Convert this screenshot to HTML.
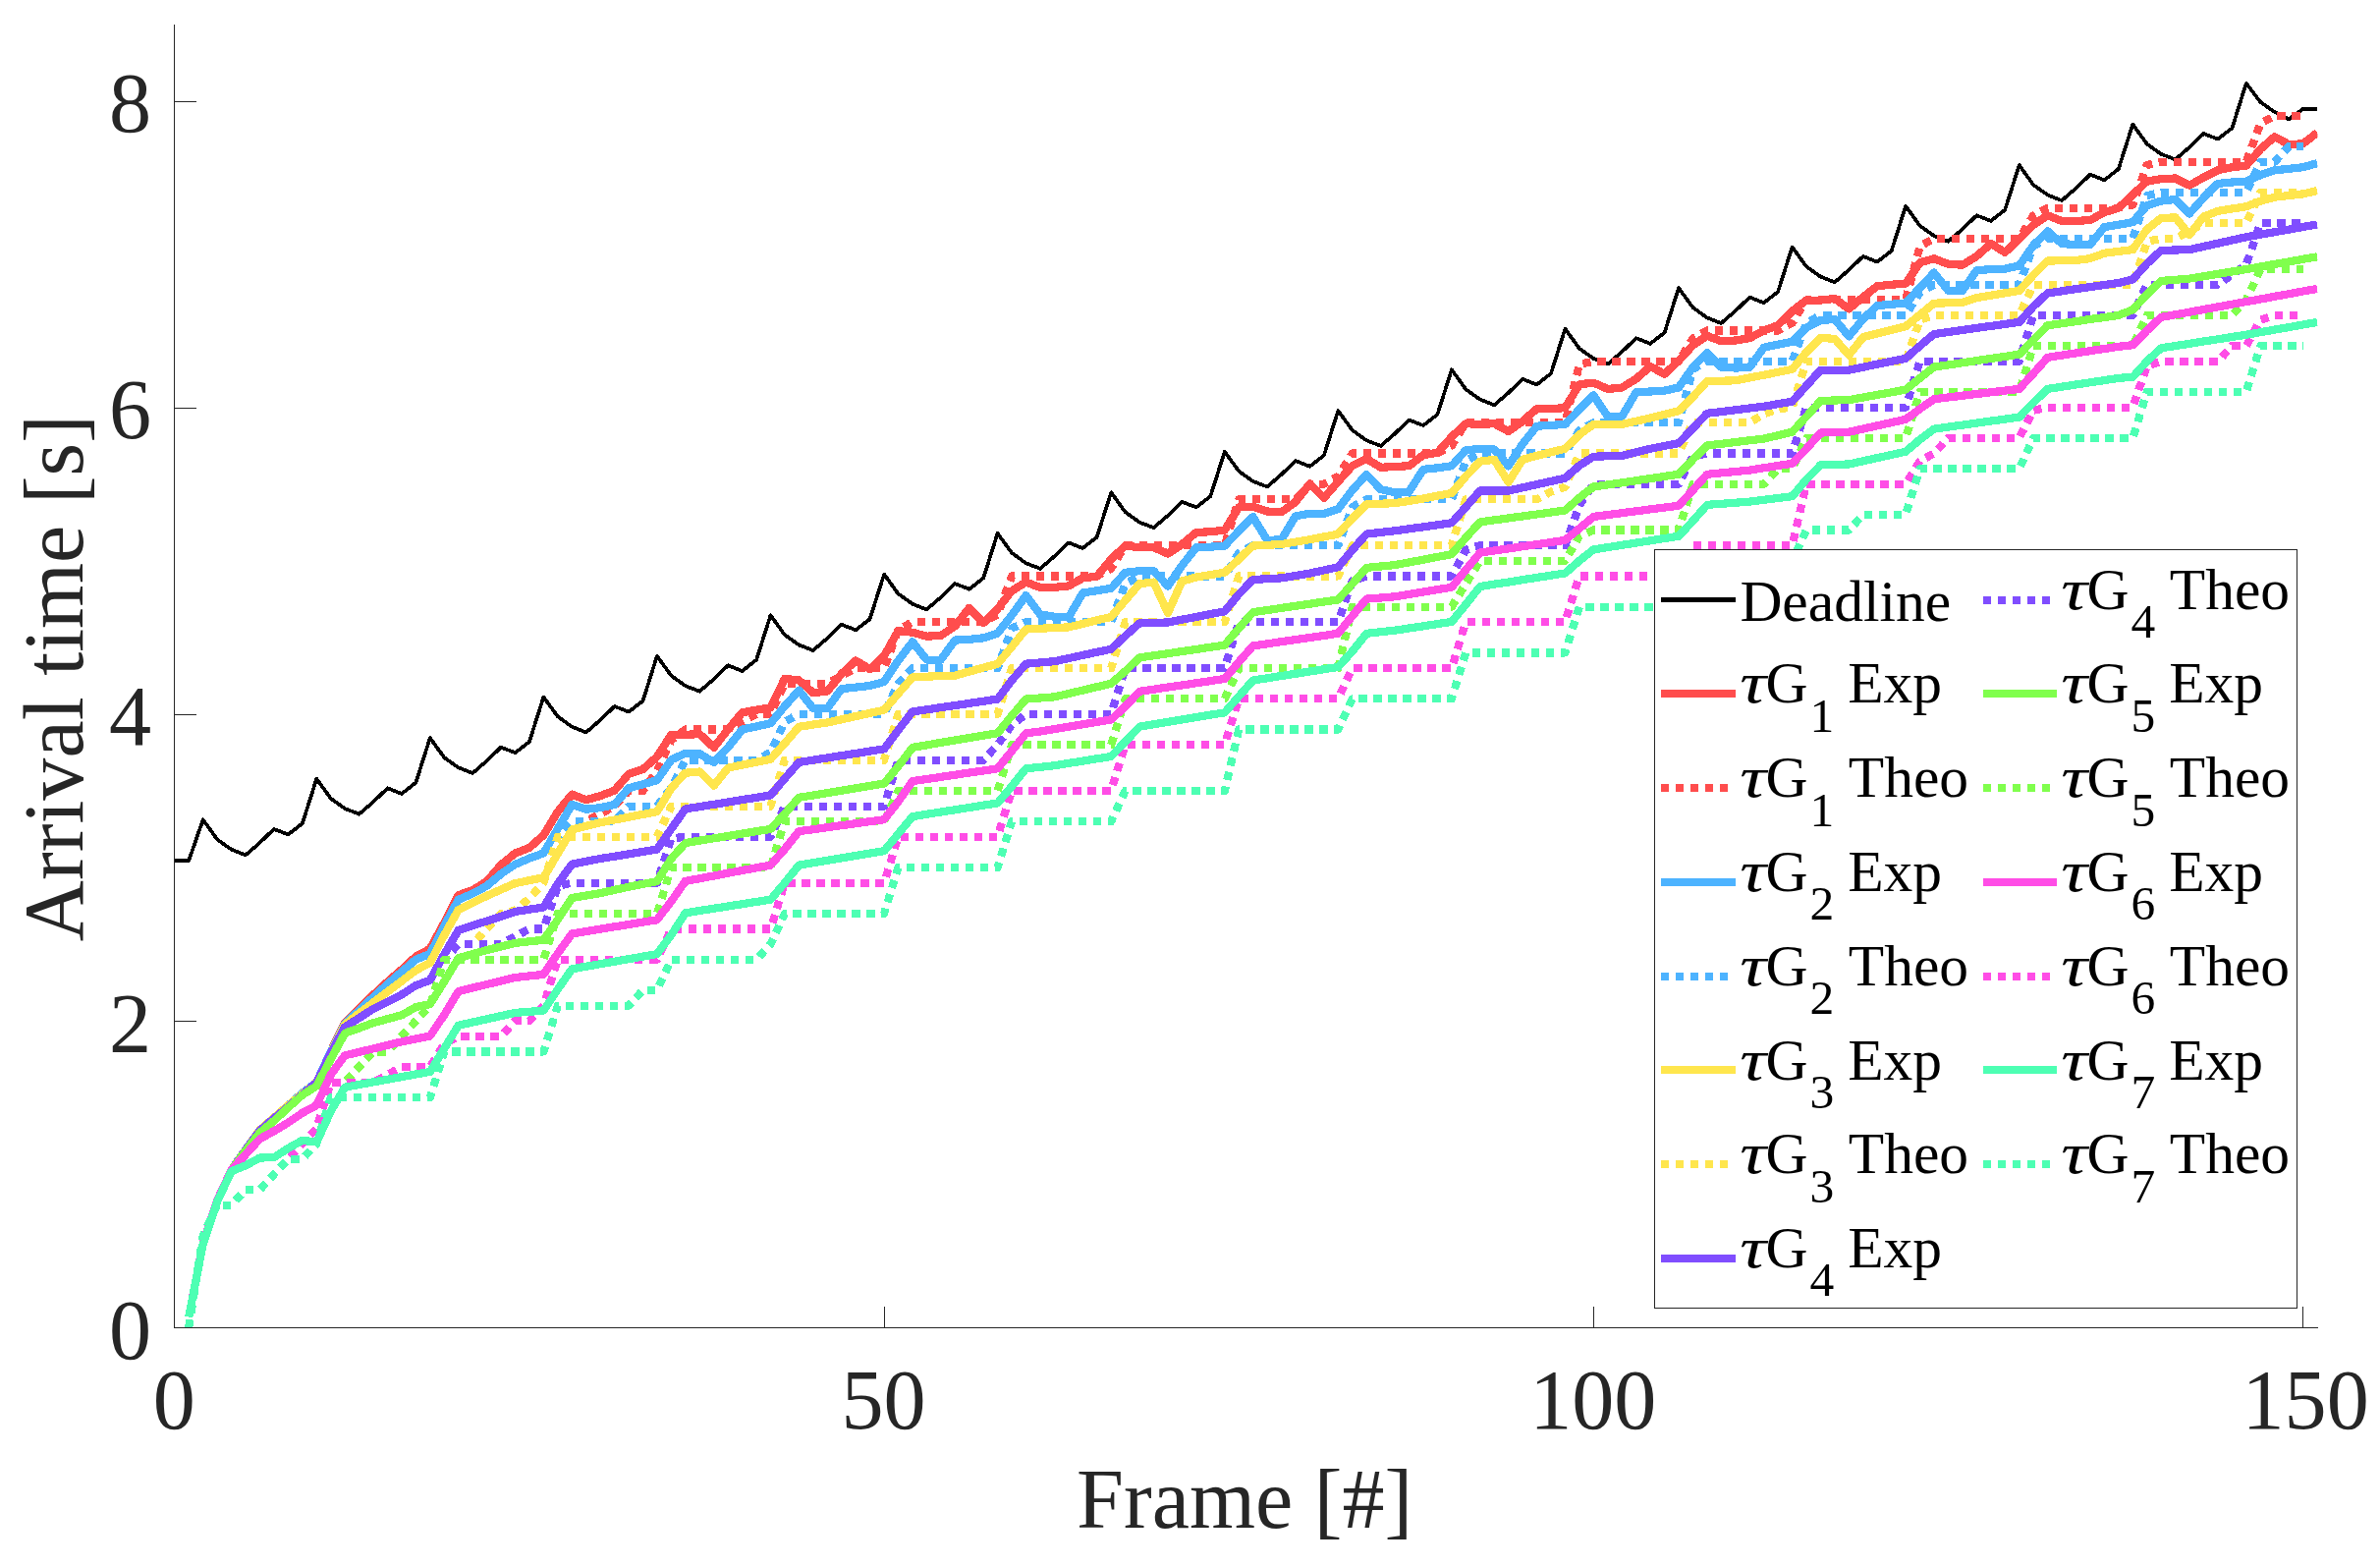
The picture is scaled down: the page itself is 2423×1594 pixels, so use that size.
<!DOCTYPE html>
<html><head><meta charset="utf-8"><title>Arrival time</title>
<style>html,body{margin:0;padding:0;background:#fff}svg{display:block}text{font-family:"Liberation Serif","DejaVu Serif",serif}.tk{font-size:86.2px;fill:#262626}.lg{font-size:59.5px;fill:#000}.sb{font-size:49.5px;fill:#000}.it{font-style:italic}</style></head><body>
<svg width="2423" height="1594" viewBox="0 0 2423 1594">
<rect width="2423" height="1594" fill="#fff"/>
<defs><clipPath id="cp"><rect x="177.5" y="24.7" width="2181.9" height="1330.8"/></clipPath></defs>
<g clip-path="url(#cp)" fill="none" stroke-linejoin="round" shape-rendering="crispEdges">
<polyline points="177.8,875.9 192.2,875.9 206.7,834.4 221.1,854.4 235.6,864.7 250.0,870.3 264.5,857.8 278.9,843.9 293.4,849.5 307.8,838.3 322.3,792.7 336.7,812.7 351.1,823.0 365.6,828.7 380.0,816.2 394.5,802.3 408.9,807.9 423.4,796.6 437.8,751.1 452.3,771.1 466.7,781.4 481.2,787.0 495.6,774.5 510.0,760.6 524.5,766.2 538.9,755.0 553.4,709.5 567.8,729.4 582.3,739.8 596.7,745.4 611.2,732.9 625.6,719.0 640.1,724.6 654.5,713.4 668.9,667.8 683.4,687.8 697.8,698.1 712.3,703.7 726.7,691.2 741.2,677.3 755.6,683.0 770.1,671.7 784.5,626.2 798.9,646.2 813.4,656.5 827.8,662.1 842.3,649.6 856.7,635.7 871.2,641.3 885.6,630.1 900.1,584.5 914.5,604.5 929.0,614.8 943.4,620.5 957.8,608.0 972.3,594.1 986.7,599.7 1001.2,588.4 1015.6,542.9 1030.1,562.9 1044.5,573.2 1059.0,578.8 1073.4,566.3 1087.9,552.4 1102.3,558.0 1116.7,546.8 1131.2,501.3 1145.6,521.2 1160.1,531.6 1174.5,537.2 1189.0,524.7 1203.4,510.8 1217.9,516.4 1232.3,505.2 1246.8,459.6 1261.2,479.6 1275.6,489.9 1290.1,495.5 1304.5,483.0 1319.0,469.1 1333.4,474.8 1347.9,463.5 1362.3,418.0 1376.8,438.0 1391.2,448.3 1405.7,453.9 1420.1,441.4 1434.5,427.5 1449.0,433.1 1463.4,421.9 1477.9,376.3 1492.3,396.3 1506.8,406.6 1521.2,412.3 1535.7,399.8 1550.1,385.9 1564.6,391.5 1579.0,380.2 1593.4,334.7 1607.9,354.7 1622.3,365.0 1636.8,370.6 1651.2,358.1 1665.7,344.2 1680.1,349.8 1694.6,338.6 1709.0,293.1 1723.5,313.0 1737.9,323.4 1752.3,329.0 1766.8,316.5 1781.2,302.6 1795.7,308.2 1810.1,297.0 1824.6,251.4 1839.0,271.4 1853.5,281.7 1867.9,287.3 1882.3,274.8 1896.8,260.9 1911.2,266.6 1925.7,255.3 1940.1,209.8 1954.6,229.8 1969.0,240.1 1983.5,245.7 1997.9,233.2 2012.4,219.3 2026.8,224.9 2041.2,213.7 2055.7,168.1 2070.1,188.1 2084.6,198.4 2099.0,204.1 2113.5,191.6 2127.9,177.7 2142.4,183.3 2156.8,172.0 2171.3,126.5 2185.7,146.5 2200.1,156.8 2214.6,162.4 2229.0,149.9 2243.5,136.0 2257.9,141.6 2272.4,130.4 2286.8,84.9 2301.3,103.9 2315.7,114.0 2330.2,121.4 2344.6,110.9 2359.0,110.9" stroke="#000" stroke-width="3.70"/>
<polyline points="192.2,1340.6 206.7,1265.6 221.1,1221.9 235.6,1190.7 250.0,1170.4 264.5,1150.1 278.9,1137.6 293.4,1125.1 307.8,1112.6 322.3,1101.7 336.7,1070.4 351.1,1040.8 365.6,1026.7 380.0,1012.7 394.5,999.4 408.9,986.9 423.4,973.6 437.8,965.8 452.3,939.3 466.7,911.2 481.2,906.0 495.6,897.1 510.0,880.4 524.5,868.5 538.9,862.9 553.4,850.1 567.8,826.2 582.3,808.6 596.7,814.2 611.2,810.1 625.6,804.7 640.1,787.8 654.5,783.1 668.9,770.3 683.4,747.8 697.8,747.8 712.3,747.2 726.7,760.8 741.2,742.5 755.6,725.2 770.1,722.7 784.5,720.3 798.9,690.8 813.4,692.4 827.8,705.2 842.3,703.6 856.7,686.0 871.2,672.4 885.6,681.1 900.1,667.7 914.5,642.1 929.0,643.7 943.4,647.7 957.8,647.0 972.3,637.3 986.7,619.0 1001.2,634.1 1015.6,619.8 1030.1,601.4 1044.5,592.6 1059.0,597.9 1073.4,597.9 1087.9,596.4 1102.3,588.4 1116.7,586.7 1131.2,569.2 1145.6,555.6 1160.1,557.2 1174.5,557.2 1189.0,563.6 1203.4,554.0 1217.9,542.0 1232.3,541.2 1246.8,539.7 1261.2,516.4 1275.6,515.6 1290.1,520.5 1304.5,521.3 1319.0,510.9 1333.4,492.5 1347.9,506.9 1362.3,490.2 1376.8,474.1 1391.2,466.9 1405.7,475.8 1420.1,475.0 1434.5,474.2 1449.0,463.2 1463.4,460.7 1477.9,444.7 1492.3,431.2 1506.8,431.9 1521.2,431.2 1535.7,439.1 1550.1,428.8 1564.6,416.0 1579.0,416.0 1593.4,415.2 1607.9,391.3 1622.3,389.6 1636.8,396.0 1651.2,394.5 1665.7,385.7 1680.1,372.9 1694.6,380.9 1709.0,367.3 1723.5,351.4 1737.9,341.8 1752.3,347.3 1766.8,346.5 1781.2,344.2 1795.7,336.5 1810.1,331.1 1824.6,316.7 1839.0,305.6 1853.5,305.6 1867.9,303.9 1882.3,314.4 1896.8,302.3 1911.2,291.2 1925.7,289.7 1940.1,288.7 1954.6,267.2 1969.0,263.3 1983.5,268.8 1997.9,269.7 2012.4,260.8 2026.8,248.0 2041.2,256.9 2055.7,243.3 2070.1,228.9 2084.6,219.3 2099.0,224.9 2113.5,224.9 2127.9,224.1 2142.4,216.1 2156.8,211.8 2171.3,198.2 2185.7,184.6 2200.1,182.2 2214.6,181.5 2229.0,188.7 2243.5,180.5 2257.9,173.3 2272.4,170.2 2286.8,168.7 2301.3,151.8 2315.7,139.2 2330.2,147.1 2344.6,146.3 2359.0,135.1" stroke="#FF4D4D" stroke-width="8.20"/>
<polyline points="192.2,1351.5 206.7,1257.8 221.1,1226.6 235.6,1226.6 250.0,1211.0 264.5,1211.0 278.9,1195.3 293.4,1179.7 307.8,1164.1 322.3,1148.5 336.7,1101.7 351.1,1101.7 365.6,1086.0 380.0,1070.4 394.5,1070.4 408.9,1054.8 423.4,1039.2 437.8,1023.6 452.3,976.7 466.7,961.1 481.2,961.1 495.6,945.5 510.0,929.9 524.5,926.8 538.9,914.3 553.4,898.7 567.8,851.8 582.3,836.2 596.7,836.2 611.2,828.4 625.6,820.6 640.1,805.0 654.5,805.0 668.9,784.7 683.4,753.4 697.8,742.5 712.3,742.5 726.7,742.5 741.2,742.5 755.6,734.7 770.1,726.9 784.5,726.9 798.9,695.7 813.4,695.7 827.8,695.7 842.3,695.7 856.7,687.9 871.2,680.1 885.6,680.1 900.1,680.1 914.5,641.0 929.0,633.2 943.4,633.2 957.8,633.2 972.3,633.2 986.7,633.2 1001.2,633.2 1015.6,625.4 1030.1,586.4 1044.5,586.4 1059.0,586.4 1073.4,586.4 1087.9,586.4 1102.3,586.4 1116.7,586.4 1131.2,578.6 1145.6,555.1 1160.1,555.1 1174.5,555.1 1189.0,555.1 1203.4,555.1 1217.9,555.1 1232.3,555.1 1246.8,555.1 1261.2,508.3 1275.6,508.3 1290.1,508.3 1304.5,508.3 1319.0,508.3 1333.4,492.7 1347.9,492.7 1362.3,484.9 1376.8,461.4 1391.2,461.4 1405.7,461.4 1420.1,461.4 1434.5,461.4 1449.0,461.4 1463.4,461.4 1477.9,453.6 1492.3,430.2 1506.8,430.2 1521.2,430.2 1535.7,430.2 1550.1,430.2 1564.6,430.2 1579.0,430.2 1593.4,430.2 1607.9,370.9 1622.3,367.8 1636.8,367.8 1651.2,367.8 1665.7,367.8 1680.1,367.8 1694.6,367.8 1709.0,367.8 1723.5,344.3 1737.9,336.5 1752.3,336.5 1766.8,336.5 1781.2,336.5 1795.7,336.5 1810.1,336.5 1824.6,328.7 1839.0,305.3 1853.5,305.3 1867.9,305.3 1882.3,305.3 1896.8,305.3 1911.2,305.3 1925.7,305.3 1940.1,305.3 1954.6,250.6 1969.0,242.8 1983.5,242.8 1997.9,242.8 2012.4,242.8 2026.8,242.8 2041.2,242.8 2055.7,242.8 2070.1,219.4 2084.6,211.6 2099.0,211.6 2113.5,211.6 2127.9,211.6 2142.4,211.6 2156.8,211.6 2171.3,208.5 2185.7,167.9 2200.1,164.8 2214.6,164.8 2229.0,164.8 2243.5,164.8 2257.9,164.8 2272.4,164.8 2286.8,164.8 2301.3,125.7 2315.7,117.9 2330.2,117.9 2344.6,117.9" stroke="#FF4D4D" stroke-width="8.20" stroke-dasharray="8.4 6.6"/>
<polyline points="192.2,1340.6 206.7,1265.6 221.1,1221.9 235.6,1190.7 250.0,1170.4 264.5,1150.1 278.9,1137.6 293.4,1125.1 307.8,1112.6 322.3,1101.7 336.7,1070.4 351.1,1042.3 365.6,1028.3 380.0,1015.0 394.5,1001.7 408.9,989.2 423.4,976.7 437.8,971.0 452.3,942.4 466.7,915.8 481.2,909.6 495.6,901.8 510.0,889.6 524.5,879.9 538.9,873.7 553.4,868.4 567.8,843.7 582.3,819.0 596.7,823.7 611.2,822.2 625.6,819.0 640.1,802.2 654.5,798.3 668.9,794.2 683.4,773.4 697.8,766.7 712.3,767.2 726.7,775.9 741.2,760.8 755.6,742.5 770.1,739.4 784.5,736.3 798.9,718.8 813.4,702.7 827.8,721.1 842.3,721.1 856.7,701.1 871.2,699.6 885.6,698.0 900.1,694.0 914.5,672.4 929.0,653.4 943.4,671.6 957.8,671.6 972.3,651.6 986.7,650.9 1001.2,649.3 1015.6,644.5 1030.1,626.2 1044.5,606.2 1059.0,625.4 1073.4,627.7 1087.9,628.5 1102.3,603.5 1116.7,601.2 1131.2,598.9 1145.6,582.8 1160.1,581.2 1174.5,581.2 1189.0,596.4 1203.4,575.6 1217.9,557.2 1232.3,556.7 1246.8,555.6 1261.2,540.5 1275.6,526.1 1290.1,550.0 1304.5,549.2 1319.0,525.3 1333.4,522.8 1347.9,522.8 1362.3,518.1 1376.8,498.9 1391.2,483.0 1405.7,498.1 1420.1,501.3 1434.5,500.5 1449.0,477.8 1463.4,476.3 1477.9,474.2 1492.3,458.3 1506.8,456.8 1521.2,457.5 1535.7,474.2 1550.1,451.9 1564.6,433.7 1579.0,432.9 1593.4,431.9 1607.9,416.8 1622.3,402.4 1636.8,424.0 1651.2,424.0 1665.7,399.3 1680.1,398.5 1694.6,397.6 1709.0,394.5 1723.5,373.7 1737.9,359.3 1752.3,373.7 1766.8,374.5 1781.2,374.0 1795.7,353.7 1810.1,350.6 1824.6,347.9 1839.0,333.4 1853.5,325.9 1867.9,325.1 1882.3,342.3 1896.8,324.7 1911.2,311.1 1925.7,309.7 1940.1,308.7 1954.6,292.8 1969.0,277.7 1983.5,295.9 1997.9,295.9 2012.4,275.2 2026.8,274.1 2041.2,273.6 2055.7,270.5 2070.1,249.7 2084.6,235.3 2099.0,248.0 2113.5,249.1 2127.9,249.1 2142.4,231.1 2156.8,228.8 2171.3,226.1 2185.7,209.3 2200.1,204.6 2214.6,203.0 2229.0,217.4 2243.5,201.3 2257.9,186.9 2272.4,185.5 2286.8,184.6 2301.3,178.2 2315.7,173.3 2330.2,171.8 2344.6,170.2 2359.0,166.2" stroke="#4DB3FF" stroke-width="8.20"/>
<polyline points="192.2,1351.5 206.7,1257.8 221.1,1226.6 235.6,1226.6 250.0,1211.0 264.5,1211.0 278.9,1195.3 293.4,1179.7 307.8,1164.1 322.3,1148.5 336.7,1101.7 351.1,1101.7 365.6,1086.0 380.0,1070.4 394.5,1070.4 408.9,1054.8 423.4,1039.2 437.8,1023.6 452.3,976.7 466.7,961.1 481.2,961.1 495.6,945.5 510.0,929.9 524.5,926.8 538.9,914.3 553.4,898.7 567.8,851.8 582.3,836.2 596.7,836.2 611.2,836.2 625.6,836.2 640.1,820.6 654.5,820.6 668.9,820.6 683.4,801.9 697.8,773.7 712.3,773.7 726.7,773.7 741.2,773.7 755.6,773.7 770.1,773.7 784.5,765.9 798.9,734.7 813.4,726.9 827.8,726.9 842.3,726.9 856.7,726.9 871.2,726.9 885.6,726.9 900.1,726.9 914.5,695.7 929.0,680.1 943.4,680.1 957.8,680.1 972.3,680.1 986.7,680.1 1001.2,680.1 1015.6,680.1 1030.1,639.5 1044.5,633.2 1059.0,633.2 1073.4,633.2 1087.9,633.2 1102.3,633.2 1116.7,633.2 1131.2,633.2 1145.6,594.2 1160.1,586.4 1174.5,586.4 1189.0,586.4 1203.4,586.4 1217.9,586.4 1232.3,586.4 1246.8,586.4 1261.2,562.9 1275.6,555.1 1290.1,555.1 1304.5,555.1 1319.0,555.1 1333.4,555.1 1347.9,555.1 1362.3,555.1 1376.8,516.1 1391.2,508.3 1405.7,508.3 1420.1,508.3 1434.5,508.3 1449.0,508.3 1463.4,508.3 1477.9,508.3 1492.3,469.3 1506.8,461.4 1521.2,461.4 1535.7,461.4 1550.1,461.4 1564.6,461.4 1579.0,461.4 1593.4,461.4 1607.9,438.0 1622.3,430.2 1636.8,430.2 1651.2,430.2 1665.7,430.2 1680.1,430.2 1694.6,430.2 1709.0,430.2 1723.5,375.6 1737.9,367.8 1752.3,367.8 1766.8,367.8 1781.2,367.8 1795.7,367.8 1810.1,367.8 1824.6,367.8 1839.0,328.7 1853.5,320.9 1867.9,320.9 1882.3,320.9 1896.8,320.9 1911.2,320.9 1925.7,320.9 1940.1,320.9 1954.6,297.5 1969.0,289.7 1983.5,289.7 1997.9,289.7 2012.4,289.7 2026.8,289.7 2041.2,289.7 2055.7,289.7 2070.1,250.6 2084.6,242.8 2099.0,242.8 2113.5,242.8 2127.9,242.8 2142.4,242.8 2156.8,242.8 2171.3,242.8 2185.7,199.1 2200.1,196.0 2214.6,196.0 2229.0,196.0 2243.5,196.0 2257.9,196.0 2272.4,196.0 2286.8,196.0 2301.3,164.8 2315.7,164.8 2330.2,149.1 2344.6,149.1" stroke="#4DB3FF" stroke-width="8.20" stroke-dasharray="8.4 6.6"/>
<polyline points="192.2,1340.6 206.7,1265.6 221.1,1221.9 235.6,1190.7 250.0,1170.4 264.5,1150.1 278.9,1137.6 293.4,1125.1 307.8,1113.4 322.3,1101.7 336.7,1072.0 351.1,1043.1 365.6,1031.4 380.0,1020.5 394.5,1009.5 408.9,998.6 423.4,987.7 437.8,979.9 452.3,951.8 466.7,926.0 481.2,919.0 495.6,911.9 510.0,905.5 524.5,899.1 538.9,896.2 553.4,893.2 567.8,869.0 582.3,844.5 596.7,840.9 611.2,837.3 625.6,834.5 640.1,831.7 654.5,828.9 668.9,826.2 683.4,802.2 697.8,786.7 712.3,785.5 726.7,799.8 741.2,781.6 755.6,778.6 770.1,775.7 784.5,772.8 798.9,756.6 813.4,739.7 827.8,737.6 842.3,735.5 856.7,732.3 871.2,729.1 885.6,725.9 900.1,722.7 914.5,706.0 929.0,689.3 943.4,688.7 957.8,688.1 972.3,687.6 986.7,683.6 1001.2,679.6 1015.6,675.7 1030.1,658.2 1044.5,640.5 1059.0,639.8 1073.4,639.0 1087.9,638.4 1102.3,634.9 1116.7,631.4 1131.2,627.9 1145.6,611.2 1160.1,594.2 1174.5,592.6 1189.0,624.0 1203.4,591.5 1217.9,587.5 1232.3,585.1 1246.8,582.8 1261.2,569.2 1275.6,555.6 1290.1,554.8 1304.5,554.0 1319.0,551.6 1333.4,549.2 1347.9,546.4 1362.3,543.6 1376.8,527.7 1391.2,513.3 1405.7,512.7 1420.1,512.2 1434.5,509.9 1449.0,507.5 1463.4,504.7 1477.9,501.9 1492.3,484.9 1506.8,469.7 1521.2,467.8 1535.7,490.8 1550.1,467.8 1564.6,463.8 1579.0,460.3 1593.4,456.8 1607.9,442.4 1622.3,431.9 1636.8,431.9 1651.2,431.9 1665.7,428.7 1680.1,425.5 1694.6,421.9 1709.0,418.3 1723.5,404.0 1737.9,388.1 1752.3,387.7 1766.8,387.3 1781.2,384.5 1795.7,381.7 1810.1,378.8 1824.6,375.9 1839.0,358.4 1853.5,344.0 1867.9,344.8 1882.3,361.5 1896.8,343.1 1911.2,339.5 1925.7,335.9 1940.1,332.3 1954.6,320.4 1969.0,308.7 1983.5,308.3 1997.9,307.9 2012.4,303.1 2026.8,300.7 2041.2,298.3 2055.7,295.9 2070.1,280.0 2084.6,265.6 2099.0,265.2 2113.5,264.9 2127.9,263.1 2142.4,257.7 2156.8,255.9 2171.3,254.1 2185.7,233.5 2200.1,222.1 2214.6,221.3 2229.0,238.9 2243.5,220.5 2257.9,214.9 2272.4,212.5 2286.8,210.2 2301.3,204.6 2315.7,200.7 2330.2,199.0 2344.6,197.4 2359.0,194.1" stroke="#FFE64D" stroke-width="8.20"/>
<polyline points="192.2,1351.5 206.7,1257.8 221.1,1226.6 235.6,1226.6 250.0,1211.0 264.5,1211.0 278.9,1195.3 293.4,1179.7 307.8,1164.1 322.3,1148.5 336.7,1101.7 351.1,1101.7 365.6,1086.0 380.0,1070.4 394.5,1070.4 408.9,1054.8 423.4,1039.2 437.8,1023.6 452.3,976.7 466.7,961.1 481.2,961.1 495.6,945.5 510.0,929.9 524.5,926.8 538.9,914.3 553.4,898.7 567.8,851.8 582.3,851.8 596.7,851.8 611.2,851.8 625.6,851.8 640.1,851.8 654.5,851.8 668.9,851.8 683.4,820.6 697.8,820.6 712.3,820.6 726.7,820.6 741.2,820.6 755.6,820.6 770.1,820.6 784.5,820.6 798.9,773.7 813.4,773.7 827.8,773.7 842.3,773.7 856.7,773.7 871.2,773.7 885.6,773.7 900.1,773.7 914.5,726.9 929.0,726.9 943.4,726.9 957.8,726.9 972.3,726.9 986.7,726.9 1001.2,726.9 1015.6,726.9 1030.1,680.1 1044.5,680.1 1059.0,680.1 1073.4,680.1 1087.9,680.1 1102.3,680.1 1116.7,680.1 1131.2,680.1 1145.6,633.2 1160.1,633.2 1174.5,633.2 1189.0,633.2 1203.4,633.2 1217.9,633.2 1232.3,633.2 1246.8,633.2 1261.2,586.4 1275.6,586.4 1290.1,586.4 1304.5,586.4 1319.0,586.4 1333.4,586.4 1347.9,586.4 1362.3,586.4 1376.8,555.1 1391.2,555.1 1405.7,555.1 1420.1,555.1 1434.5,555.1 1449.0,555.1 1463.4,555.1 1477.9,555.1 1492.3,508.3 1506.8,508.3 1521.2,508.3 1535.7,508.3 1550.1,508.3 1564.6,508.3 1579.0,500.5 1593.4,495.8 1607.9,461.4 1622.3,461.4 1636.8,461.4 1651.2,461.4 1665.7,461.4 1680.1,461.4 1694.6,461.4 1709.0,461.4 1723.5,430.2 1737.9,430.2 1752.3,430.2 1766.8,430.2 1781.2,430.2 1795.7,421.5 1810.1,416.2 1824.6,414.6 1839.0,367.8 1853.5,367.8 1867.9,367.8 1882.3,367.8 1896.8,367.8 1911.2,367.8 1925.7,367.8 1940.1,367.8 1954.6,325.6 1969.0,320.9 1983.5,320.9 1997.9,320.9 2012.4,320.9 2026.8,320.9 2041.2,320.9 2055.7,320.9 2070.1,289.7 2084.6,289.7 2099.0,289.7 2113.5,289.7 2127.9,289.7 2142.4,289.7 2156.8,289.7 2171.3,289.7 2185.7,246.0 2200.1,242.8 2214.6,242.8 2229.0,235.0 2243.5,227.2 2257.9,227.2 2272.4,227.2 2286.8,227.2 2301.3,196.0 2315.7,196.0 2330.2,196.0 2344.6,196.0" stroke="#FFE64D" stroke-width="8.20" stroke-dasharray="8.4 6.6"/>
<polyline points="192.2,1340.6 206.7,1265.6 221.1,1221.9 235.6,1190.7 250.0,1170.4 264.5,1150.8 278.9,1138.4 293.4,1126.6 307.8,1114.2 322.3,1101.7 336.7,1072.0 351.1,1045.4 365.6,1036.2 380.0,1026.9 394.5,1019.7 408.9,1012.5 423.4,1003.0 437.8,997.8 452.3,971.3 466.7,946.8 481.2,942.2 495.6,937.5 510.0,932.7 524.5,927.9 538.9,925.7 553.4,923.5 567.8,899.6 582.3,879.6 596.7,876.8 611.2,874.0 625.6,871.7 640.1,869.3 654.5,866.9 668.9,864.5 683.4,843.7 697.8,823.4 712.3,821.1 726.7,818.8 741.2,816.5 755.6,814.1 770.1,811.8 784.5,809.5 798.9,792.5 813.4,775.9 827.8,773.7 842.3,771.4 856.7,769.1 871.2,766.9 885.6,764.6 900.1,762.3 914.5,743.1 929.0,724.4 943.4,722.3 957.8,720.1 972.3,718.0 986.7,715.9 1001.2,713.7 1015.6,711.6 1030.1,692.5 1044.5,675.7 1059.0,674.4 1073.4,673.2 1087.9,670.1 1102.3,666.9 1116.7,663.8 1131.2,660.7 1145.6,647.3 1160.1,634.3 1174.5,633.9 1189.0,633.5 1203.4,630.7 1217.9,627.9 1232.3,625.1 1246.8,622.3 1261.2,604.8 1275.6,590.0 1290.1,589.2 1304.5,588.4 1319.0,586.0 1333.4,583.6 1347.9,580.4 1362.3,577.2 1376.8,559.8 1391.2,543.6 1405.7,541.9 1420.1,540.3 1434.5,538.3 1449.0,536.3 1463.4,534.3 1477.9,532.3 1492.3,516.1 1506.8,499.5 1521.2,499.5 1535.7,499.5 1550.1,496.3 1564.6,493.1 1579.0,489.9 1593.4,486.7 1607.9,473.9 1622.3,464.7 1636.8,464.3 1651.2,463.9 1665.7,460.4 1680.1,456.8 1694.6,453.9 1709.0,451.1 1723.5,436.0 1737.9,420.8 1752.3,419.1 1766.8,417.3 1781.2,415.5 1795.7,413.7 1810.1,411.2 1824.6,408.7 1839.0,392.7 1853.5,376.7 1867.9,376.7 1882.3,376.7 1896.8,373.7 1911.2,370.7 1925.7,367.8 1940.1,364.8 1954.6,352.1 1969.0,340.0 1983.5,338.0 1997.9,336.0 2012.4,333.9 2026.8,331.9 2041.2,329.9 2055.7,327.9 2070.1,312.0 2084.6,298.4 2099.0,296.3 2113.5,294.2 2127.9,292.1 2142.4,290.1 2156.8,288.0 2171.3,284.4 2185.7,268.4 2200.1,254.9 2214.6,254.5 2229.0,254.1 2243.5,250.9 2257.9,247.7 2272.4,244.5 2286.8,241.3 2301.3,238.7 2315.7,236.2 2330.2,233.6 2344.6,231.0 2359.0,228.5" stroke="#804DFF" stroke-width="8.20"/>
<polyline points="192.2,1351.5 206.7,1257.8 221.1,1226.6 235.6,1226.6 250.0,1211.0 264.5,1211.0 278.9,1195.3 293.4,1179.7 307.8,1164.1 322.3,1148.5 336.7,1101.7 351.1,1101.7 365.6,1086.0 380.0,1070.4 394.5,1070.4 408.9,1054.8 423.4,1039.2 437.8,1023.6 452.3,976.7 466.7,961.1 481.2,961.1 495.6,961.1 510.0,961.1 524.5,953.3 538.9,945.5 553.4,945.5 567.8,901.8 582.3,898.7 596.7,898.7 611.2,898.7 625.6,898.7 640.1,898.7 654.5,898.7 668.9,898.7 683.4,853.4 697.8,851.8 712.3,851.8 726.7,851.8 741.2,851.8 755.6,851.8 770.1,851.8 784.5,851.8 798.9,820.6 813.4,820.6 827.8,820.6 842.3,820.6 856.7,820.6 871.2,820.6 885.6,820.6 900.1,820.6 914.5,773.7 929.0,773.7 943.4,773.7 957.8,773.7 972.3,773.7 986.7,773.7 1001.2,773.7 1015.6,758.1 1030.1,737.8 1044.5,726.9 1059.0,726.9 1073.4,726.9 1087.9,726.9 1102.3,726.9 1116.7,726.9 1131.2,726.9 1145.6,680.1 1160.1,680.1 1174.5,680.1 1189.0,680.1 1203.4,680.1 1217.9,680.1 1232.3,680.1 1246.8,680.1 1261.2,633.2 1275.6,633.2 1290.1,633.2 1304.5,633.2 1319.0,633.2 1333.4,633.2 1347.9,633.2 1362.3,633.2 1376.8,591.0 1391.2,586.4 1405.7,586.4 1420.1,586.4 1434.5,586.4 1449.0,586.4 1463.4,586.4 1477.9,586.4 1492.3,559.8 1506.8,555.1 1521.2,555.1 1535.7,555.1 1550.1,555.1 1564.6,555.1 1579.0,555.1 1593.4,555.1 1607.9,514.5 1622.3,492.7 1636.8,492.7 1651.2,492.7 1665.7,492.7 1680.1,492.7 1694.6,492.7 1709.0,492.7 1723.5,464.6 1737.9,461.4 1752.3,461.4 1766.8,461.4 1781.2,461.4 1795.7,461.4 1810.1,461.4 1824.6,461.4 1839.0,414.6 1853.5,414.6 1867.9,414.6 1882.3,414.6 1896.8,414.6 1911.2,414.6 1925.7,414.6 1940.1,414.6 1954.6,367.8 1969.0,367.8 1983.5,367.8 1997.9,367.8 2012.4,367.8 2026.8,367.8 2041.2,367.8 2055.7,367.8 2070.1,320.9 2084.6,320.9 2099.0,320.9 2113.5,320.9 2127.9,320.9 2142.4,320.9 2156.8,320.9 2171.3,320.9 2185.7,289.7 2200.1,289.7 2214.6,289.7 2229.0,289.7 2243.5,289.7 2257.9,289.7 2272.4,279.5 2286.8,269.4 2301.3,227.2 2315.7,227.2 2330.2,227.2 2344.6,227.2" stroke="#804DFF" stroke-width="8.20" stroke-dasharray="8.4 6.6"/>
<polyline points="192.2,1340.6 206.7,1265.6 221.1,1221.9 235.6,1190.7 250.0,1171.3 264.5,1152.9 278.9,1140.9 293.4,1127.4 307.8,1114.6 322.3,1105.4 336.7,1078.2 351.1,1051.7 365.6,1046.5 380.0,1041.2 394.5,1037.2 408.9,1033.3 423.4,1025.1 437.8,1022.2 452.3,999.1 466.7,975.2 481.2,971.1 495.6,967.1 510.0,963.5 524.5,959.9 538.9,958.3 553.4,956.8 567.8,936.1 582.3,914.0 596.7,911.5 611.2,909.1 625.6,905.9 640.1,902.7 654.5,899.9 668.9,897.1 683.4,874.0 697.8,858.1 712.3,855.7 726.7,853.3 741.2,851.0 755.6,848.6 770.1,846.2 784.5,843.9 798.9,828.4 813.4,811.8 827.8,809.5 842.3,807.1 856.7,804.7 871.2,802.3 885.6,799.9 900.1,797.5 914.5,780.0 929.0,760.8 943.4,758.4 957.8,755.9 972.3,753.5 986.7,751.1 1001.2,748.7 1015.6,746.3 1030.1,728.5 1044.5,711.6 1059.0,710.5 1073.4,709.4 1087.9,706.0 1102.3,702.6 1116.7,699.2 1131.2,695.8 1145.6,683.2 1160.1,669.4 1174.5,667.3 1189.0,665.2 1203.4,663.0 1217.9,660.9 1232.3,658.8 1246.8,656.6 1261.2,639.5 1275.6,623.2 1290.1,621.1 1304.5,618.9 1319.0,616.8 1333.4,614.7 1347.9,612.5 1362.3,610.4 1376.8,594.2 1391.2,577.9 1405.7,576.5 1420.1,575.1 1434.5,572.4 1449.0,569.7 1463.4,566.9 1477.9,564.2 1492.3,547.3 1506.8,531.4 1521.2,529.4 1535.7,527.4 1550.1,525.5 1564.6,523.5 1579.0,521.5 1593.4,519.5 1607.9,506.7 1622.3,495.5 1636.8,493.4 1651.2,491.3 1665.7,489.2 1680.1,487.1 1694.6,484.9 1709.0,482.8 1723.5,467.7 1737.9,453.5 1752.3,451.8 1766.8,450.0 1781.2,448.3 1795.7,446.6 1810.1,443.2 1824.6,439.7 1839.0,424.0 1853.5,407.9 1867.9,407.5 1882.3,407.1 1896.8,404.5 1911.2,401.9 1925.7,399.3 1940.1,396.6 1954.6,384.9 1969.0,373.5 1983.5,371.4 1997.9,369.3 2012.4,367.1 2026.8,365.0 2041.2,362.9 2055.7,360.7 2070.1,345.9 2084.6,331.2 2099.0,329.2 2113.5,327.1 2127.9,325.0 2142.4,323.0 2156.8,320.9 2171.3,315.4 2185.7,299.5 2200.1,285.9 2214.6,284.8 2229.0,283.6 2243.5,281.2 2257.9,278.8 2272.4,276.4 2286.8,274.1 2301.3,271.5 2315.7,268.9 2330.2,266.4 2344.6,263.8 2359.0,261.3" stroke="#80FF4D" stroke-width="8.20"/>
<polyline points="192.2,1351.5 206.7,1257.8 221.1,1226.6 235.6,1226.6 250.0,1211.0 264.5,1211.0 278.9,1195.3 293.4,1179.7 307.8,1164.1 322.3,1148.5 336.7,1101.7 351.1,1101.7 365.6,1086.0 380.0,1070.4 394.5,1070.4 408.9,1054.8 423.4,1039.2 437.8,1023.6 452.3,976.7 466.7,976.7 481.2,976.7 495.6,976.7 510.0,976.7 524.5,976.7 538.9,976.7 553.4,976.7 567.8,929.9 582.3,929.9 596.7,929.9 611.2,929.9 625.6,929.9 640.1,929.9 654.5,929.9 668.9,929.9 683.4,883.0 697.8,883.0 712.3,883.0 726.7,883.0 741.2,883.0 755.6,883.0 770.1,883.0 784.5,883.0 798.9,836.2 813.4,836.2 827.8,836.2 842.3,836.2 856.7,836.2 871.2,836.2 885.6,836.2 900.1,836.2 914.5,805.0 929.0,805.0 943.4,805.0 957.8,805.0 972.3,805.0 986.7,805.0 1001.2,805.0 1015.6,805.0 1030.1,758.1 1044.5,758.1 1059.0,758.1 1073.4,758.1 1087.9,758.1 1102.3,758.1 1116.7,758.1 1131.2,758.1 1145.6,711.3 1160.1,711.3 1174.5,711.3 1189.0,711.3 1203.4,711.3 1217.9,711.3 1232.3,711.3 1246.8,711.3 1261.2,680.1 1275.6,680.1 1290.1,680.1 1304.5,680.1 1319.0,680.1 1333.4,680.1 1347.9,680.1 1362.3,680.1 1376.8,617.6 1391.2,617.6 1405.7,617.6 1420.1,617.6 1434.5,617.6 1449.0,617.6 1463.4,617.6 1477.9,617.6 1492.3,594.2 1506.8,570.8 1521.2,570.8 1535.7,570.8 1550.1,570.8 1564.6,570.8 1579.0,570.8 1593.4,570.8 1607.9,545.8 1622.3,539.5 1636.8,539.5 1651.2,539.5 1665.7,539.5 1680.1,539.5 1694.6,539.5 1709.0,539.5 1723.5,492.7 1737.9,492.7 1752.3,492.7 1766.8,492.7 1781.2,492.7 1795.7,492.7 1810.1,477.1 1824.6,477.1 1839.0,445.8 1853.5,445.8 1867.9,445.8 1882.3,445.8 1896.8,445.8 1911.2,445.8 1925.7,445.8 1940.1,445.8 1954.6,399.0 1969.0,399.0 1983.5,399.0 1997.9,399.0 2012.4,399.0 2026.8,399.0 2041.2,399.0 2055.7,399.0 2070.1,352.1 2084.6,352.1 2099.0,352.1 2113.5,352.1 2127.9,352.1 2142.4,352.1 2156.8,352.1 2171.3,352.1 2185.7,320.9 2200.1,320.9 2214.6,320.9 2229.0,320.9 2243.5,320.9 2257.9,320.9 2272.4,320.9 2286.8,305.3 2301.3,274.1 2315.7,274.1 2330.2,274.1 2344.6,274.1" stroke="#80FF4D" stroke-width="8.20" stroke-dasharray="8.4 6.6"/>
<polyline points="192.2,1340.6 206.7,1265.6 221.1,1221.9 235.6,1190.7 250.0,1175.2 264.5,1159.3 278.9,1151.3 293.4,1142.6 307.8,1132.9 322.3,1125.1 336.7,1093.9 351.1,1074.3 365.6,1070.9 380.0,1067.4 394.5,1063.9 408.9,1060.4 423.4,1057.5 437.8,1054.5 452.3,1033.0 466.7,1009.1 481.2,1005.5 495.6,1002.0 510.0,998.5 524.5,995.0 538.9,993.4 553.4,991.9 567.8,970.5 582.3,950.4 596.7,948.0 611.2,945.7 625.6,943.3 640.1,941.0 654.5,938.6 668.9,936.3 683.4,917.4 697.8,896.9 712.3,894.2 726.7,891.5 741.2,888.7 755.6,886.0 770.1,883.3 784.5,880.6 798.9,864.3 813.4,846.2 827.8,844.2 842.3,842.2 856.7,840.2 871.2,838.2 885.6,836.2 900.1,834.2 914.5,815.9 929.0,795.1 943.4,793.0 957.8,790.9 972.3,788.7 986.7,786.6 1001.2,784.5 1015.6,782.3 1030.1,764.4 1044.5,746.4 1059.0,744.5 1073.4,742.1 1087.9,739.7 1102.3,737.3 1116.7,734.9 1131.2,732.5 1145.6,719.1 1160.1,703.8 1174.5,701.7 1189.0,699.5 1203.4,697.4 1217.9,695.3 1232.3,693.1 1246.8,691.0 1261.2,673.8 1275.6,657.4 1290.1,655.3 1304.5,653.2 1319.0,651.1 1333.4,649.0 1347.9,646.9 1362.3,644.8 1376.8,627.0 1391.2,609.6 1405.7,608.5 1420.1,607.3 1434.5,604.9 1449.0,602.5 1463.4,600.1 1477.9,597.8 1492.3,580.1 1506.8,562.6 1521.2,560.5 1535.7,558.4 1550.1,556.2 1564.6,554.1 1579.0,552.0 1593.4,549.8 1607.9,538.0 1622.3,525.9 1636.8,524.1 1651.2,522.2 1665.7,520.3 1680.1,518.4 1694.6,516.6 1709.0,514.7 1723.5,498.9 1737.9,482.8 1752.3,481.4 1766.8,480.0 1781.2,478.6 1795.7,476.3 1810.1,474.0 1824.6,471.8 1839.0,456.8 1853.5,440.5 1867.9,440.1 1882.3,439.7 1896.8,436.5 1911.2,433.3 1925.7,430.1 1940.1,426.9 1954.6,416.2 1969.0,406.2 1983.5,404.5 1997.9,402.7 2012.4,401.0 2026.8,399.3 2041.2,397.6 2055.7,395.9 2070.1,380.2 2084.6,363.9 2099.0,361.6 2113.5,359.4 2127.9,357.2 2142.4,355.0 2156.8,352.8 2171.3,351.2 2185.7,336.5 2200.1,322.9 2214.6,320.3 2229.0,317.7 2243.5,315.0 2257.9,312.4 2272.4,309.7 2286.8,307.1 2301.3,304.5 2315.7,301.8 2330.2,299.2 2344.6,296.5 2359.0,293.9" stroke="#FF4DE6" stroke-width="8.20"/>
<polyline points="192.2,1351.5 206.7,1257.8 221.1,1226.6 235.6,1226.6 250.0,1211.0 264.5,1211.0 278.9,1195.3 293.4,1179.7 307.8,1164.1 322.3,1148.5 336.7,1101.7 351.1,1101.7 365.6,1101.7 380.0,1101.7 394.5,1093.9 408.9,1086.0 423.4,1086.0 437.8,1086.0 452.3,1062.6 466.7,1054.8 481.2,1054.8 495.6,1054.8 510.0,1054.8 524.5,1039.2 538.9,1039.2 553.4,1023.6 567.8,976.7 582.3,976.7 596.7,976.7 611.2,976.7 625.6,976.7 640.1,976.7 654.5,976.7 668.9,976.7 683.4,945.5 697.8,945.5 712.3,945.5 726.7,945.5 741.2,945.5 755.6,945.5 770.1,945.5 784.5,945.5 798.9,898.7 813.4,898.7 827.8,898.7 842.3,898.7 856.7,898.7 871.2,898.7 885.6,898.7 900.1,898.7 914.5,851.8 929.0,851.8 943.4,851.8 957.8,851.8 972.3,851.8 986.7,851.8 1001.2,851.8 1015.6,851.8 1030.1,805.0 1044.5,805.0 1059.0,805.0 1073.4,805.0 1087.9,805.0 1102.3,805.0 1116.7,805.0 1131.2,805.0 1145.6,758.1 1160.1,758.1 1174.5,758.1 1189.0,758.1 1203.4,758.1 1217.9,758.1 1232.3,758.1 1246.8,758.1 1261.2,711.3 1275.6,711.3 1290.1,711.3 1304.5,711.3 1319.0,711.3 1333.4,711.3 1347.9,711.3 1362.3,711.3 1376.8,680.1 1391.2,680.1 1405.7,680.1 1420.1,680.1 1434.5,680.1 1449.0,680.1 1463.4,680.1 1477.9,680.1 1492.3,633.2 1506.8,633.2 1521.2,633.2 1535.7,633.2 1550.1,633.2 1564.6,633.2 1579.0,633.2 1593.4,633.2 1607.9,586.4 1622.3,586.4 1636.8,586.4 1651.2,586.4 1665.7,586.4 1680.1,586.4 1694.6,586.4 1709.0,586.4 1723.5,555.1 1737.9,555.1 1752.3,555.1 1766.8,555.1 1781.2,555.1 1795.7,555.1 1810.1,555.1 1824.6,555.1 1839.0,492.7 1853.5,492.7 1867.9,492.7 1882.3,492.7 1896.8,492.7 1911.2,492.7 1925.7,492.7 1940.1,492.7 1954.6,469.3 1969.0,461.4 1983.5,445.8 1997.9,445.8 2012.4,445.8 2026.8,445.8 2041.2,445.8 2055.7,445.8 2070.1,417.7 2084.6,414.6 2099.0,414.6 2113.5,414.6 2127.9,414.6 2142.4,414.6 2156.8,414.6 2171.3,414.6 2185.7,372.4 2200.1,367.8 2214.6,367.8 2229.0,367.8 2243.5,367.8 2257.9,367.8 2272.4,352.1 2286.8,352.1 2301.3,325.6 2315.7,320.9 2330.2,320.9 2344.6,320.9" stroke="#FF4DE6" stroke-width="8.20" stroke-dasharray="8.4 6.6"/>
<polyline points="192.2,1340.6 206.7,1266.2 221.1,1223.1 235.6,1192.2 250.0,1186.4 264.5,1178.5 278.9,1178.2 293.4,1168.8 307.8,1160.8 322.3,1162.6 336.7,1131.3 351.1,1106.7 365.6,1104.0 380.0,1101.4 394.5,1098.8 408.9,1096.1 423.4,1093.5 437.8,1090.9 452.3,1067.3 466.7,1043.7 481.2,1040.5 495.6,1037.3 510.0,1034.1 524.5,1030.9 538.9,1029.8 553.4,1028.6 567.8,1007.0 582.3,986.3 596.7,983.7 611.2,981.2 625.6,978.7 640.1,976.2 654.5,973.6 668.9,971.1 683.4,951.8 697.8,929.3 712.3,927.0 726.7,924.7 741.2,922.5 755.6,920.2 770.1,917.9 784.5,915.7 798.9,898.7 813.4,880.6 827.8,878.2 842.3,875.8 856.7,873.4 871.2,871.0 885.6,868.6 900.1,866.2 914.5,848.7 929.0,831.1 943.4,828.8 957.8,826.5 972.3,824.3 986.7,822.0 1001.2,819.7 1015.6,817.5 1030.1,800.3 1044.5,782.3 1059.0,780.8 1073.4,779.2 1087.9,776.9 1102.3,774.6 1116.7,772.3 1131.2,770.0 1145.6,755.0 1160.1,739.7 1174.5,737.3 1189.0,734.9 1203.4,732.5 1217.9,730.1 1232.3,727.7 1246.8,725.3 1261.2,708.9 1275.6,692.5 1290.1,690.3 1304.5,688.0 1319.0,685.8 1333.4,683.5 1347.9,681.2 1362.3,679.0 1376.8,662.9 1391.2,644.8 1405.7,643.2 1420.1,641.6 1434.5,639.5 1449.0,637.3 1463.4,635.1 1477.9,632.9 1492.3,615.3 1506.8,597.0 1521.2,594.7 1535.7,592.5 1550.1,590.2 1564.6,587.9 1579.0,585.7 1593.4,583.4 1607.9,570.8 1622.3,559.4 1636.8,557.1 1651.2,554.8 1665.7,552.6 1680.1,550.3 1694.6,548.0 1709.0,545.8 1723.5,530.2 1737.9,513.9 1752.3,512.8 1766.8,511.7 1781.2,510.6 1795.7,508.8 1810.1,507.0 1824.6,505.2 1839.0,488.0 1853.5,473.3 1867.9,472.9 1882.3,472.5 1896.8,469.3 1911.2,466.1 1925.7,462.9 1940.1,459.7 1954.6,447.4 1969.0,436.6 1983.5,434.6 1997.9,432.6 2012.4,430.6 2026.8,428.6 2041.2,426.6 2055.7,424.6 2070.1,409.9 2084.6,395.9 2099.0,393.7 2113.5,391.5 2127.9,389.3 2142.4,387.1 2156.8,384.9 2171.3,383.8 2185.7,367.8 2200.1,354.3 2214.6,352.1 2229.0,349.8 2243.5,347.5 2257.9,345.3 2272.4,343.0 2286.8,340.7 2301.3,338.2 2315.7,335.6 2330.2,333.1 2344.6,330.5 2359.0,327.9" stroke="#4DFFB3" stroke-width="8.20"/>
<polyline points="192.2,1351.5 206.7,1257.8 221.1,1226.6 235.6,1226.6 250.0,1211.0 264.5,1211.0 278.9,1195.3 293.4,1179.7 307.8,1179.7 322.3,1164.1 336.7,1117.3 351.1,1117.3 365.6,1117.3 380.0,1117.3 394.5,1117.3 408.9,1117.3 423.4,1117.3 437.8,1117.3 452.3,1070.4 466.7,1070.4 481.2,1070.4 495.6,1070.4 510.0,1070.4 524.5,1070.4 538.9,1070.4 553.4,1070.4 567.8,1023.6 582.3,1023.6 596.7,1023.6 611.2,1023.6 625.6,1023.6 640.1,1023.6 654.5,1008.0 668.9,1008.0 683.4,976.7 697.8,976.7 712.3,976.7 726.7,976.7 741.2,976.7 755.6,976.7 770.1,976.7 784.5,961.1 798.9,929.9 813.4,929.9 827.8,929.9 842.3,929.9 856.7,929.9 871.2,929.9 885.6,929.9 900.1,929.9 914.5,883.0 929.0,883.0 943.4,883.0 957.8,883.0 972.3,883.0 986.7,883.0 1001.2,883.0 1015.6,883.0 1030.1,836.2 1044.5,836.2 1059.0,836.2 1073.4,836.2 1087.9,836.2 1102.3,836.2 1116.7,836.2 1131.2,836.2 1145.6,805.0 1160.1,805.0 1174.5,805.0 1189.0,805.0 1203.4,805.0 1217.9,805.0 1232.3,805.0 1246.8,805.0 1261.2,742.5 1275.6,742.5 1290.1,742.5 1304.5,742.5 1319.0,742.5 1333.4,742.5 1347.9,742.5 1362.3,742.5 1376.8,711.3 1391.2,711.3 1405.7,711.3 1420.1,711.3 1434.5,711.3 1449.0,711.3 1463.4,711.3 1477.9,711.3 1492.3,664.4 1506.8,664.4 1521.2,664.4 1535.7,664.4 1550.1,664.4 1564.6,664.4 1579.0,664.4 1593.4,664.4 1607.9,617.6 1622.3,617.6 1636.8,617.6 1651.2,617.6 1665.7,617.6 1680.1,617.6 1694.6,617.6 1709.0,617.6 1723.5,570.8 1737.9,570.8 1752.3,570.8 1766.8,570.8 1781.2,570.8 1795.7,570.8 1810.1,570.8 1824.6,570.8 1839.0,539.5 1853.5,539.5 1867.9,539.5 1882.3,539.5 1896.8,523.9 1911.2,523.9 1925.7,523.9 1940.1,523.9 1954.6,477.1 1969.0,477.1 1983.5,477.1 1997.9,477.1 2012.4,477.1 2026.8,477.1 2041.2,477.1 2055.7,477.1 2070.1,445.8 2084.6,445.8 2099.0,445.8 2113.5,445.8 2127.9,445.8 2142.4,445.8 2156.8,445.8 2171.3,445.8 2185.7,399.0 2200.1,399.0 2214.6,399.0 2229.0,399.0 2243.5,399.0 2257.9,399.0 2272.4,399.0 2286.8,399.0 2301.3,352.1 2315.7,352.1 2330.2,352.1 2344.6,352.1" stroke="#4DFFB3" stroke-width="8.20" stroke-dasharray="8.4 6.6"/>
</g>
<g stroke="#262626" stroke-width="1" fill="none" shape-rendering="crispEdges">
<path d="M177.5 25 V1352 M177 1351.5 H2360"/>
<path d="M900.5 1351 V1330"/>
<path d="M1622.5 1351 V1330"/>
<path d="M2344.5 1351 V1330"/>
<path d="M177 103.5 H200"/>
<path d="M177 415.5 H200"/>
<path d="M177 727.5 H200"/>
<path d="M177 1039.5 H200"/>
</g>
<text class="tk" x="177.3" y="1453.5" text-anchor="middle">0</text>
<text class="tk" x="899.6" y="1453.5" text-anchor="middle">50</text>
<text class="tk" x="1621.8" y="1453.5" text-anchor="middle">100</text>
<text class="tk" x="2347.1" y="1453.5" text-anchor="middle">150</text>
<text class="tk" x="154" y="1383.0" text-anchor="end">0</text>
<text class="tk" x="154" y="1070.7" text-anchor="end">2</text>
<text class="tk" x="154" y="758.4" text-anchor="end">4</text>
<text class="tk" x="154" y="446.1" text-anchor="end">6</text>
<text class="tk" x="154" y="133.8" text-anchor="end">8</text>
<text class="tk" x="1267.2" y="1554.7" text-anchor="middle">Frame [#]</text>
<text class="tk" transform="translate(84,690.2) rotate(-90)" text-anchor="middle">Arrival time [s]</text>
<rect x="1684.5" y="559.5" width="654" height="772" fill="#fff" stroke="#262626" stroke-width="1" shape-rendering="crispEdges"/>
<path d="M1691.0 610.5 H1767.0" stroke="#000" stroke-width="5" fill="none" shape-rendering="crispEdges"/>
<text class="lg" x="1771.4" y="632.0">Deadline</text>
<path d="M1691.0 706.0 H1767.0" stroke="#FF4D4D" stroke-width="8" fill="none" shape-rendering="crispEdges"/>
<text class="lg it" transform="translate(1771.25,715.3) scale(1.26,1)">τ</text>
<text class="lg" y="715.3"><tspan x="1797.5">G</tspan><tspan class="sb" x="1842.6" dy="29.4">1</tspan><tspan x="1881.2" dy="-29.4">Exp</tspan></text>
<path d="M1691.0 802.0 H1760.0" stroke="#FF4D4D" stroke-width="8" stroke-dasharray="8 7" fill="none" shape-rendering="crispEdges"/>
<text class="lg it" transform="translate(1771.25,811.3) scale(1.26,1)">τ</text>
<text class="lg" y="811.3"><tspan x="1797.5">G</tspan><tspan class="sb" x="1842.6" dy="29.4">1</tspan><tspan x="1881.8" dy="-29.4">Theo</tspan></text>
<path d="M1691.0 897.8 H1767.0" stroke="#4DB3FF" stroke-width="8" fill="none" shape-rendering="crispEdges"/>
<text class="lg it" transform="translate(1771.25,907.0) scale(1.26,1)">τ</text>
<text class="lg" y="907.0"><tspan x="1797.5">G</tspan><tspan class="sb" x="1842.6" dy="29.4">2</tspan><tspan x="1881.2" dy="-29.4">Exp</tspan></text>
<path d="M1691.0 993.5 H1760.0" stroke="#4DB3FF" stroke-width="8" stroke-dasharray="8 7" fill="none" shape-rendering="crispEdges"/>
<text class="lg it" transform="translate(1771.25,1002.8) scale(1.26,1)">τ</text>
<text class="lg" y="1002.8"><tspan x="1797.5">G</tspan><tspan class="sb" x="1842.6" dy="29.4">2</tspan><tspan x="1881.8" dy="-29.4">Theo</tspan></text>
<path d="M1691.0 1089.2 H1767.0" stroke="#FFE64D" stroke-width="8" fill="none" shape-rendering="crispEdges"/>
<text class="lg it" transform="translate(1771.25,1098.5) scale(1.26,1)">τ</text>
<text class="lg" y="1098.5"><tspan x="1797.5">G</tspan><tspan class="sb" x="1842.6" dy="29.4">3</tspan><tspan x="1881.2" dy="-29.4">Exp</tspan></text>
<path d="M1691.0 1185.0 H1760.0" stroke="#FFE64D" stroke-width="8" stroke-dasharray="8 7" fill="none" shape-rendering="crispEdges"/>
<text class="lg it" transform="translate(1771.25,1194.3) scale(1.26,1)">τ</text>
<text class="lg" y="1194.3"><tspan x="1797.5">G</tspan><tspan class="sb" x="1842.6" dy="29.4">3</tspan><tspan x="1881.8" dy="-29.4">Theo</tspan></text>
<path d="M1691.0 1280.8 H1767.0" stroke="#804DFF" stroke-width="8" fill="none" shape-rendering="crispEdges"/>
<text class="lg it" transform="translate(1771.25,1290.0) scale(1.26,1)">τ</text>
<text class="lg" y="1290.0"><tspan x="1797.5">G</tspan><tspan class="sb" x="1842.6" dy="29.4">4</tspan><tspan x="1881.2" dy="-29.4">Exp</tspan></text>
<path d="M2019.0 610.5 H2087.0" stroke="#804DFF" stroke-width="8" stroke-dasharray="8 7" fill="none" shape-rendering="crispEdges"/>
<text class="lg it" transform="translate(2098.25,619.8) scale(1.26,1)">τ</text>
<text class="lg" y="619.8"><tspan x="2124.5">G</tspan><tspan class="sb" x="2169.6" dy="29.4">4</tspan><tspan x="2208.8" dy="-29.4">Theo</tspan></text>
<path d="M2019.0 706.0 H2094.0" stroke="#80FF4D" stroke-width="8" fill="none" shape-rendering="crispEdges"/>
<text class="lg it" transform="translate(2098.25,715.3) scale(1.26,1)">τ</text>
<text class="lg" y="715.3"><tspan x="2124.5">G</tspan><tspan class="sb" x="2169.6" dy="29.4">5</tspan><tspan x="2208.2" dy="-29.4">Exp</tspan></text>
<path d="M2019.0 802.0 H2087.0" stroke="#80FF4D" stroke-width="8" stroke-dasharray="8 7" fill="none" shape-rendering="crispEdges"/>
<text class="lg it" transform="translate(2098.25,811.3) scale(1.26,1)">τ</text>
<text class="lg" y="811.3"><tspan x="2124.5">G</tspan><tspan class="sb" x="2169.6" dy="29.4">5</tspan><tspan x="2208.8" dy="-29.4">Theo</tspan></text>
<path d="M2019.0 897.8 H2094.0" stroke="#FF4DE6" stroke-width="8" fill="none" shape-rendering="crispEdges"/>
<text class="lg it" transform="translate(2098.25,907.0) scale(1.26,1)">τ</text>
<text class="lg" y="907.0"><tspan x="2124.5">G</tspan><tspan class="sb" x="2169.6" dy="29.4">6</tspan><tspan x="2208.2" dy="-29.4">Exp</tspan></text>
<path d="M2019.0 993.5 H2087.0" stroke="#FF4DE6" stroke-width="8" stroke-dasharray="8 7" fill="none" shape-rendering="crispEdges"/>
<text class="lg it" transform="translate(2098.25,1002.8) scale(1.26,1)">τ</text>
<text class="lg" y="1002.8"><tspan x="2124.5">G</tspan><tspan class="sb" x="2169.6" dy="29.4">6</tspan><tspan x="2208.8" dy="-29.4">Theo</tspan></text>
<path d="M2019.0 1089.2 H2094.0" stroke="#4DFFB3" stroke-width="8" fill="none" shape-rendering="crispEdges"/>
<text class="lg it" transform="translate(2098.25,1098.5) scale(1.26,1)">τ</text>
<text class="lg" y="1098.5"><tspan x="2124.5">G</tspan><tspan class="sb" x="2169.6" dy="29.4">7</tspan><tspan x="2208.2" dy="-29.4">Exp</tspan></text>
<path d="M2019.0 1185.0 H2087.0" stroke="#4DFFB3" stroke-width="8" stroke-dasharray="8 7" fill="none" shape-rendering="crispEdges"/>
<text class="lg it" transform="translate(2098.25,1194.3) scale(1.26,1)">τ</text>
<text class="lg" y="1194.3"><tspan x="2124.5">G</tspan><tspan class="sb" x="2169.6" dy="29.4">7</tspan><tspan x="2208.8" dy="-29.4">Theo</tspan></text>
</svg></body></html>
